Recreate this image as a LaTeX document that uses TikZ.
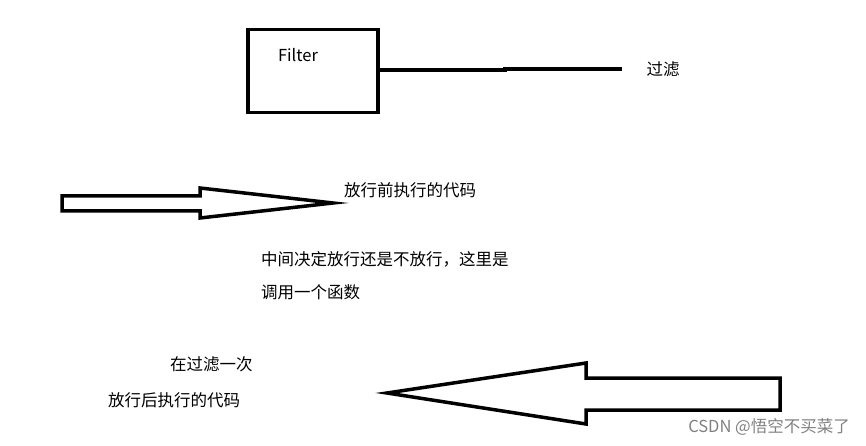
\documentclass[tikz,border=0pt]{standalone}
\usepackage{fontspec}
\setmainfont{Noto Sans CJK SC}
\begin{document}
\begin{tikzpicture}[x=1pt,y=-1pt,
  ink/.style={line width=3.5pt,black},
  lbl/.style={font=\fontsize{16.5}{19}\selectfont,inner sep=0pt}]
\useasboundingbox (0,0) rectangle (866,446);
\node[draw,ink,minimum width=130pt,minimum height=83pt,anchor=north west,inner sep=0pt] (box) at (246,28) {};
\node[lbl] (ft) at (298,55) {Filter};
\coordinate (e1) at (622,69);
\draw[ink] (box.east |- 0,70) -- (505,70) -- (505,69) -- (e1);
\node[lbl] (gl) at (663,69) {过滤};
\draw[ink,line join=miter] (62,196) -- (200,196) -- (200,188) -- (333,203) -- (200,218) -- (200,211) -- (62,211) -- cycle;
\node[lbl,anchor=west] (pre) at (344,190) {放行前执行的代码};
\node[lbl,anchor=west] (mid1) at (261,259) {中间决定放行还是不放行，这里是};
\node[lbl,anchor=west] (mid2) at (261,292) {调用一个函数};
\node[lbl,anchor=west] (again) at (170,364) {在过滤一次};
\node[lbl,anchor=west] (post) at (108,400) {放行后执行的代码};
\draw[ink,line join=miter] (387,393) -- (586,363) -- (586,378) -- (780,378) -- (780,410) -- (586,410) -- (586,424) -- cycle;
\node[lbl,anchor=east,text=gray] (wm) at (850,427) {CSDN @悟空不买菜了};
\end{tikzpicture}
\end{document}
